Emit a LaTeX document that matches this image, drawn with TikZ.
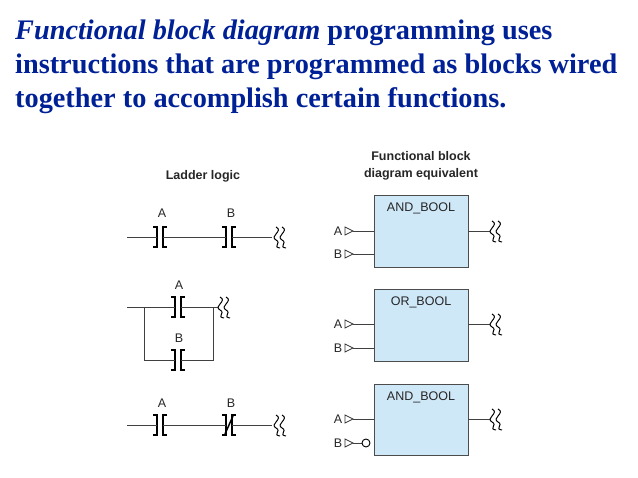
\documentclass[tikz,border=0pt]{standalone}
\usepackage{fontspec}
\setmainfont{Liberation Serif}
\newfontfamily\lsans{Liberation Sans}
\begin{document}
\begin{tikzpicture}[x=1pt,y=-1pt,
  wire/.style={draw=black!75,line width=0.8pt},
  blk/.style={draw=black!70,fill={rgb,255:red,207;green,232;blue,248},line width=0.8pt},
  lbl/.style={font=\lsans\fontsize{12.5}{14}\selectfont,text=black!85,inner sep=0pt},
  head/.style={font=\lsans\bfseries\fontsize{12.5}{17}\selectfont,text=black!85,align=center,inner sep=0pt},
  title/.style={font=\bfseries\fontsize{28.3}{34}\selectfont,text={rgb,255:red,0;green,32;blue,150},anchor=north west,align=left,inner sep=0pt},
  contact/.pic={
    \draw[line width=1.8pt] (-7,-10)--(-3,-10)--(-3,10)--(-7,10);
    \draw[line width=1.8pt] (7,-10)--(3,-10)--(3,10)--(7,10);
    \coordinate (-w) at (-3,0); \coordinate (-e) at (3,0);},
  ncontact/.pic={
    \draw[line width=1.8pt] (-7,-10)--(-3,-10)--(-3,10)--(-7,10);
    \draw[line width=1.8pt] (7,-10)--(3,-10)--(3,10)--(7,10);
    \draw[line width=1.5pt] (-4,9)--(4,-9);},
  squig/.pic={
    \draw[line width=1pt] (1,-10) .. controls (9,-6) and (-6,-1) .. (1,3) .. controls (7,6) and (-3,10) .. (5,11);
    \draw[line width=1pt] (7,-10) .. controls (15,-6) and (0,-1) .. (7,3) .. controls (13,6) and (3,10) .. (11,11);},
  intri/.style={draw=black!80,line width=0.8pt,fill=white}
]
\useasboundingbox (0,0) rectangle (638,478);
\node[title] (t) at (15,20) {\textit{Functional block diagram} programming uses\\instructions that are programmed as blocks wired\\together to accomplish certain functions.};
\node[head] (h1) at (203,176) {Ladder logic};
\node[head] (h2) at (421,166) {Functional block\\diagram equivalent};
% row 1 ladder
\coordinate (r1s) at (127,237);
\pic (c1a) at (160,237) {contact};
\pic (c1b) at (229,237) {contact};
\coordinate (r1e) at (272,237);
\draw[wire] (r1s)--(c1a-w) (c1a-e)--(c1b-w) (c1b-e)--(r1e);
\pic at (275,237) {squig};
\node[lbl] (l1a) at (162,213) {A};
\node[lbl] (l1b) at (231,213) {B};
% row 2 ladder
\coordinate (r2s) at (127,307);
\coordinate (p2l) at (144,307);
\coordinate (p2r) at (213,307);
\coordinate (q2l) at (144,360);
\coordinate (q2r) at (213,360);
\pic (c2a) at (178,307) {contact};
\pic (c2b) at (178,360) {contact};
\coordinate (r2e) at (218,307);
\draw[wire] (r2s)--(c2a-w) (c2a-e)--(r2e);
\draw[wire] (p2l)--(q2l)--(c2b-w) (c2b-e)--(q2r)--(p2r);
\pic at (219,307) {squig};
\node[lbl] (l2a) at (179,285) {A};
\node[lbl] (l2b) at (179,338) {B};
% row 3 ladder
\coordinate (r3s) at (127,425);
\pic (c3a) at (160,425) {contact};
\pic (c3b) at (229,425) {ncontact};
\coordinate (c3bw) at (226,425);
\coordinate (c3be) at (232,425);
\coordinate (r3e) at (272,425);
\draw[wire] (r3s)--(c3a-w) (c3a-e)--(c3bw) (c3be)--(r3e);
\pic at (275,425) {squig};
\node[lbl] (l3a) at (162,403) {A};
\node[lbl] (l3b) at (231,403) {B};
% blocks
\foreach \n/\top/\bot/\ya/\yb/\name in {1/195/267/231/254/AND\_BOOL,2/289/361/324/348/OR\_BOOL,3/384/455/419/443/AND\_BOOL}{
  \draw[blk] (374,\top) rectangle (468,\bot);
  \node[lbl] at (421,\top+13) {\name};
  \draw[wire] (468,\ya)--(490,\ya);
  \pic at (491,\ya) {squig};
  \node[lbl] at (338,\ya) {A};
  \node[lbl] at (338,\yb) {B};
  \draw[intri] (345,\ya-4)--(353,\ya)--(345,\ya+4)--cycle;
  \draw[intri] (345,\yb-4)--(353,\yb)--(345,\yb+4)--cycle;
  \draw[wire] (353,\ya)--(374,\ya);
}
\draw[wire] (353,254)--(374,254);
\draw[wire] (353,348)--(374,348);
\draw[wire] (353,443)--(362,443);
\draw[line width=0.9pt,fill=white] (366,443) circle (4);
\end{tikzpicture}
\end{document}
